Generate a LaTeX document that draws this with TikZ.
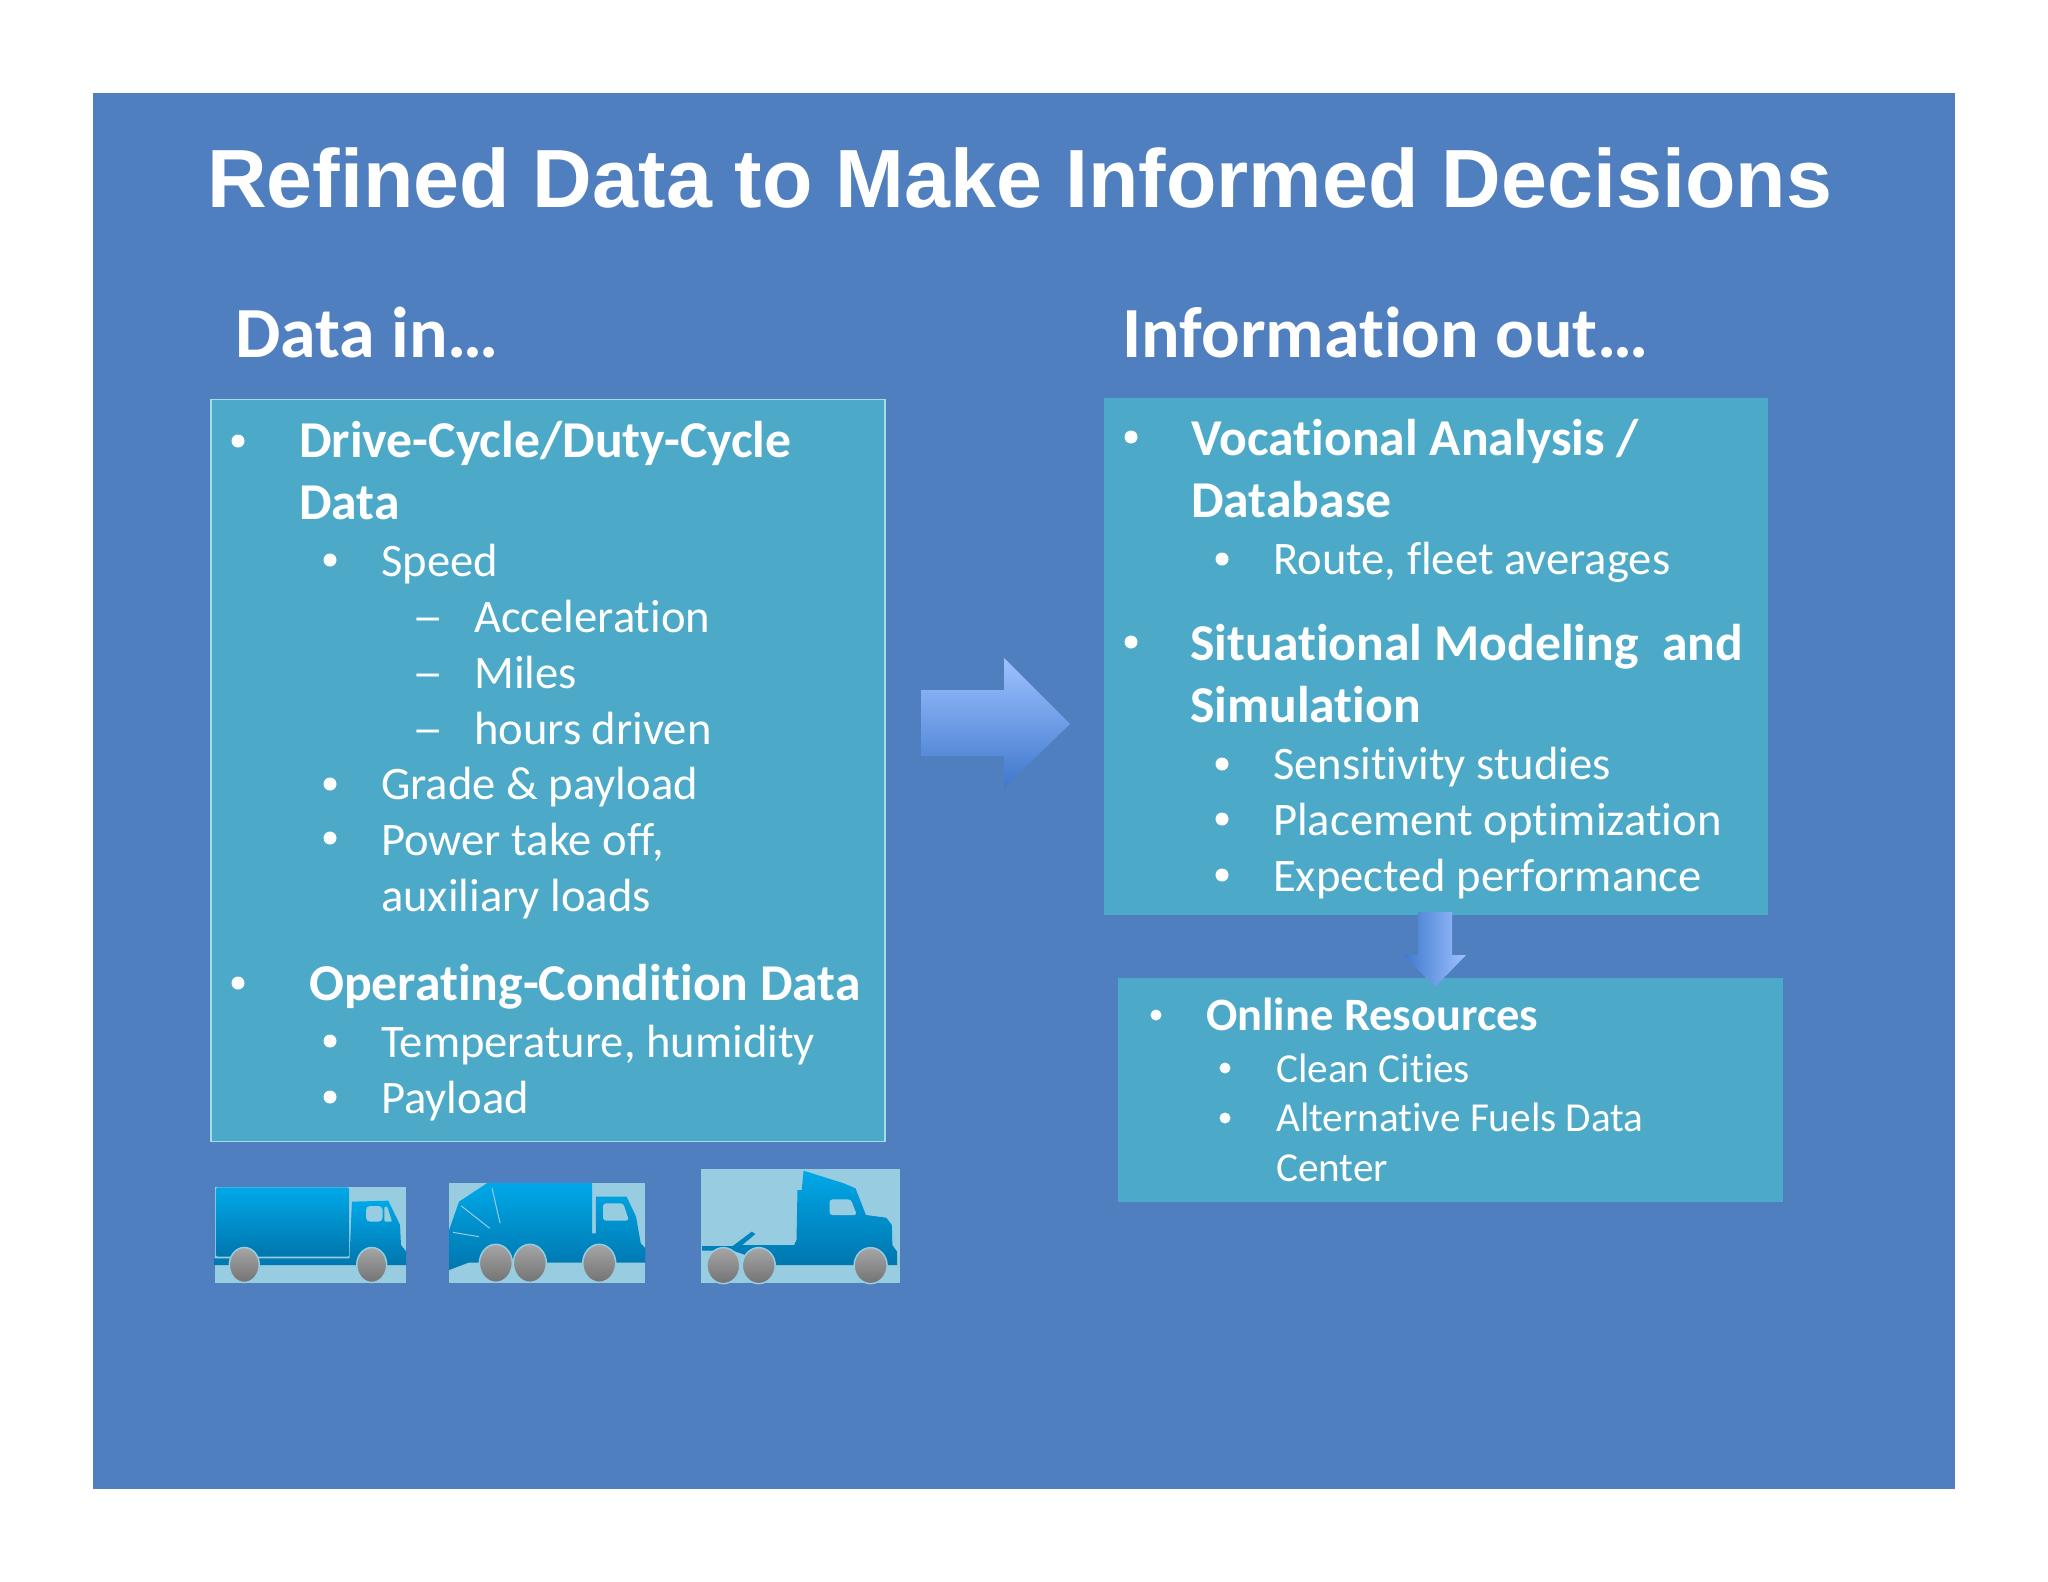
\documentclass[tikz,border=0pt]{standalone}
\usepackage{fontspec}
\setmainfont[Ligatures=CommonOff]{Carlito}
\newfontfamily\titlefont{Liberation Sans}
\usetikzlibrary{shapes.geometric}
\definecolor{slide}{HTML}{507FBF}
\definecolor{panel}{HTML}{4CA9C8}
\definecolor{panelline}{HTML}{A5DCE6}
\definecolor{sky}{HTML}{98CCE0}
\definecolor{trucktop}{HTML}{00A8E8}
\definecolor{truckbot}{HTML}{0076AE}
\definecolor{arrowlight}{HTML}{9EC1FF}
\definecolor{arrowdark}{HTML}{3E78CC}
\tikzset{
  panelbox/.style={fill=panel,anchor=north west,inner sep=0pt},
  txt/.style={anchor=base west,inner sep=0pt,text=white},
  big/.style={txt,font=\fontsize{72}{72}\selectfont\bfseries},
  head/.style={txt,font=\fontsize{51.7}{52}\selectfont\bfseries},
  item/.style={txt,font=\fontsize{46.6}{47}\selectfont},
  headb/.style={txt,font=\fontsize{46.4}{47}\selectfont\bfseries},
  itemb/.style={txt,font=\fontsize{41.2}{42}\selectfont},
  dot/.style={fill=white,circle,inner sep=0pt,minimum size=13pt},
  truck/.style={top color=trucktop,bottom color=truckbot},
  glass/.style={fill=sky,rounded corners=4pt},
  wheel/.style={draw=sky,line width=1.5pt,top color=black!35,bottom color=black!55,ellipse,inner sep=0pt,minimum width=30pt,minimum height=35pt},
}
\begin{document}
\begin{tikzpicture}[x=1pt,y=-1pt]
  \useasboundingbox (0,0) rectangle (2048,1582);
  \fill[white] (0,0) rectangle (2048,1582);
  \fill[slide] (93,93) rectangle (1955,1489);
  \node[txt,font=\titlefont\fontsize{82.6}{83}\selectfont\bfseries] (title) at (207,207) {Refined Data to Make Informed Decisions};
  \node[big] (datain) at (235,357) {Data in…};
  \node[big] (infoout) at (1122,357) {Information out…};

  % boxes
  \node[panelbox,draw=panelline,line width=1.5pt,minimum width=674pt,minimum height=742pt] (inbox) at (210,398.5) {};
  \node[panelbox,minimum width=664pt,minimum height=517pt] (outbox) at (1103.5,398) {};
  \node[panelbox,minimum width=665pt,minimum height=224pt] (webbox) at (1118,978) {};

  % data in
  \node[head] (drive) at (299,457) {Drive-Cycle/Duty-Cycle};
  \node[head] (drivedata) at (299,519) {Data};
  \node[item] (speed) at (381,576) {Speed};
  \node[item] (accel) at (474,632) {Acceleration};
  \node[item] (miles) at (474,688) {Miles};
  \node[item] (hours) at (474,744) {hours driven};
  \node[item] (grade) at (381,799) {Grade \& payload};
  \node[item] (power) at (381,855) {Power take off,};
  \node[item] (aux) at (381,911) {auxiliary loads};
  \node[head] (oper) at (309,1000) {Operating-Condition Data};
  \node[item] (temp) at (381,1057) {Temperature, humidity};
  \node[item] (load) at (381,1113) {Payload};
  \foreach \name/\x/\y in {a/238/441,b/330/560,c/330/784,d/330/838,e/238/983,f/330/1041,g/330/1097}
    \node[dot] (in\name) at (\x,\y) {};
  \foreach \name/\y in {a/632,b/688,c/744}
    \node[item] (dash\name) at (412,\y) {\scalebox{1.35}[1]{–}};

  % information out
  \node[head] (voc) at (1191,455) {Vocational Analysis /};
  \node[head] (vocdb) at (1191,517) {Database};
  \node[item] (route) at (1273,574) {Route, fleet averages};
  \node[head] (sit) at (1190,660) {Situational Modeling\ \ and};
  \node[head] (sim) at (1190,722) {Simulation};
  \node[item] (sens) at (1273,779) {Sensitivity studies};
  \node[item] (place) at (1273,835) {Placement optimization};
  \node[item] (perf) at (1273,891) {Expected performance};
  \foreach \name/\x/\y in {a/1131/437,b/1222/559,c/1131/642,d/1222/764,e/1222/819,f/1222/875}
    \node[dot] (out\name) at (\x,\y) {};

  % online resources
  \node[headb] (web) at (1206,1030) {Online Resources};
  \node[itemb] (cities) at (1276,1082) {Clean Cities};
  \node[itemb] (afdc) at (1276,1131) {Alternative Fuels Data};
  \node[itemb] (center) at (1276,1181) {Center};
  \foreach \name/\x/\y in {a/1156/1015,b/1225/1068,c/1225/1118}
    \node[dot,minimum size=11pt] (web\name) at (\x,\y) {};

  % arrows
  \shade[top color=arrowlight,bottom color=arrowdark]
    (921,690) -- (1004,690) -- (1004,658) -- (1070,724) -- (1004,788) -- (1004,756) -- (921,756) -- cycle;
  \shade[left color=arrowdark,right color=arrowlight]
    (1418,912) -- (1452,912) -- (1452,955) -- (1466,955) -- (1435,987) -- (1403,955) -- (1418,955) -- cycle;

  % trucks, drawn in the scale of one crop
  \begin{scope}[shift={(190,1150)},x=0.472pt,y=-0.3333pt]
    \fill[sky] (52,112) rectangle (458,400);
    \shade[truck,rounded corners=2pt] (55,112) rectangle (337,320);
    \shade[truck] (52,325) -- (338,325) -- (343,155) -- (420,152) -- (445,225) -- (447,285) -- (458,305) -- (458,345) -- (52,345) -- cycle;
    \fill[glass] (373,168) rectangle (408,215);
    \fill[glass,rounded corners=1pt] (412,170) -- (418,170) -- (428,215) -- (412,215) -- cycle;
    \node[wheel] (wheela) at (115,345) {};
    \node[wheel] (wheelb) at (385,345) {};

    \fill[sky] (549,99) rectangle (965,400);
    \shade[truck] (549,360) -- (549,240) -- (570,155) -- (630,99) -- (852,99) -- (852,250) -- (860,250) -- (860,140) -- (925,140) -- (945,200) -- (955,280) -- (965,295) -- (965,338) -- (590,338) -- cycle;
    \fill[glass,rounded corners=3pt] (875,160) -- (918,160) -- (930,212) -- (875,212) -- cycle;
    \draw[sky,line width=1pt] (640,115) -- (657,220) (575,168) -- (635,235) (557,247) -- (612,260);
    \node[wheel,minimum width=33pt,minimum height=38pt] (wheelc) at (648,340) {};
    \node[wheel,minimum width=33pt,minimum height=38pt] (wheeld) at (720,340) {};
    \node[wheel,minimum width=33pt,minimum height=38pt] (wheele) at (867,340) {};

    \fill[sky] (1083,58) rectangle (1505,400);
    \shade[truck] (1085,288) -- (1150,288) -- (1190,245) -- (1198,252) -- (1170,285) -- (1280,285) -- (1285,270) -- (1287,120) -- (1296,120) -- (1300,62) -- (1385,100) -- (1410,115) -- (1432,195) -- (1475,203) -- (1487,225) -- (1488,285) -- (1498,305) -- (1498,345) -- (1240,345) -- (1150,302) -- (1085,302) -- cycle;
    \fill[glass,rounded corners=3pt] (1355,148) -- (1400,148) -- (1413,195) -- (1355,195) -- cycle;
    \node[wheel,minimum width=33pt,minimum height=36pt] (wheelf) at (1130,347) {};
    \node[wheel,minimum width=33pt,minimum height=36pt] (wheelg) at (1205,347) {};
    \node[wheel,minimum width=33pt,minimum height=36pt] (wheelh) at (1442,347) {};
  \end{scope}
\end{tikzpicture}
\end{document}
